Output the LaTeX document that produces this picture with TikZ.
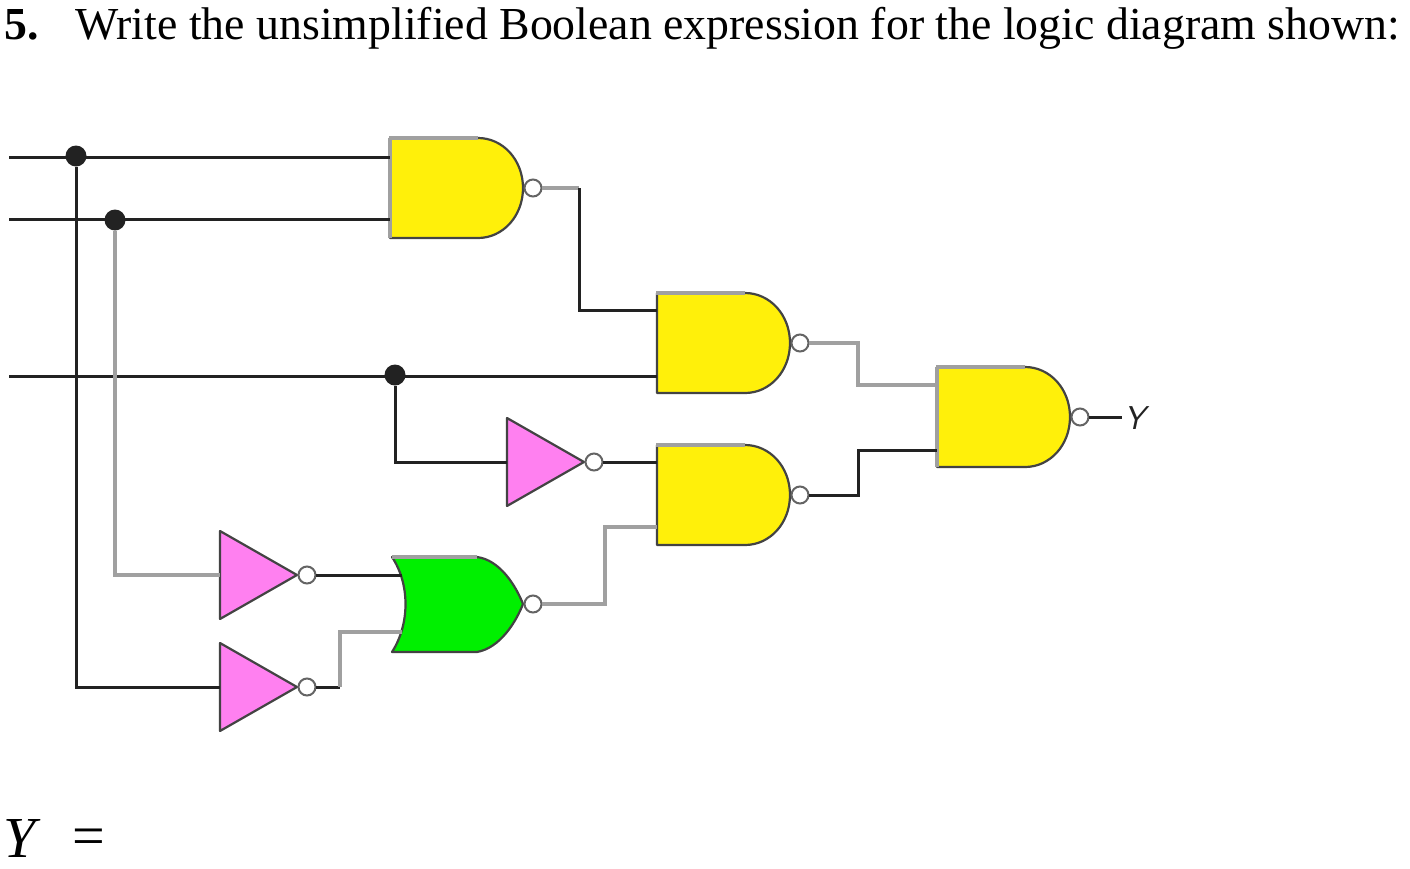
\documentclass[tikz,border=0pt]{standalone}
\usepackage{fontspec}
\setmainfont{Liberation Serif}
\definecolor{wiredark}{HTML}{222222}
\definecolor{wiregray}{HTML}{A0A0A0}
\definecolor{nandyellow}{HTML}{FFF00A}
\definecolor{norgreen}{HTML}{00F000}
\definecolor{notpink}{HTML}{FF80F0}
\tikzset{
    wire/.style={draw=wiredark,line width=3pt},
    graywire/.style={draw=wiregray,line width=3.4pt},
    dot/.style={circle,fill=wiredark,inner sep=0pt,minimum size=21pt},
    outline/.style={draw=wiredark!85!white,line width=2.2pt,line join=round},
    bubble/.style={circle,draw=wiredark!70!white,fill=white,line width=2pt,inner sep=0pt,minimum size=17pt},
    heading/.style={inner sep=0pt,anchor=base west,font=\fontsize{45.8}{46}\selectfont},
    nandgate/.pic={
        \path[outline,fill=nandyellow] (0,-50) -- (88,-50) .. controls (113,-50) and (133,-28) .. (133,0)
            .. controls (133,28) and (113,50) .. (88,50) -- (0,50) -- cycle;
        \draw[graywire] (-1,-50) -- (88,-50);
        \node[bubble] (-bub) at (143,0) {};
        \coordinate (-nw) at (0,-50);
        \coordinate (-sw) at (0,50);
        \coordinate (-w) at (0,0);
        \coordinate (-out) at (152,0);
    },
    norgate/.pic={
        \path[outline,fill=norgreen] (0,-47) -- (85,-47) .. controls (108,-44) and (124,-18) .. (131,0)
            .. controls (124,18) and (108,44) .. (85,48) -- (0,48)
            .. controls (18,20) and (18,-20) .. (0,-47) -- cycle;
        \draw[graywire] (0,-47) -- (85,-47);
        \node[bubble] (-bub) at (141,0) {};
        \coordinate (-in1) at (10,-30);
        \coordinate (-in2) at (10,28);
        \coordinate (-out) at (150,0);
    },
    notgate/.pic={
        \path[outline,fill=notpink] (0,-44) -- (77,0) -- (0,44) -- cycle;
        \node[bubble] (-bub) at (87,0) {};
        \coordinate (-in) at (0,0);
        \coordinate (-out) at (96,0);
    }
}
\begin{document}
\begin{tikzpicture}[x=1pt,y=-1pt]
    \useasboundingbox (0,0) rectangle (1410,868);
    % gates
    \pic (nandA) at (390,188) {nandgate};
    \pic (nandB) at (657,343) {nandgate};
    \pic (nandC) at (657,495) {nandgate};
    \pic (nandY) at (937,417) {nandgate};
    \pic (norD) at (392,604) {norgate};
    \pic (notC) at (507,462) {notgate};
    \pic (notB) at (220,575) {notgate};
    \pic (notA) at (220,687) {notgate};
    \draw[graywire] (nandA-nw) -- (nandA-sw);
    \draw[graywire] (nandY-nw) -- (nandY-sw);
    % free ends and bends
    \coordinate (inA) at (9,157);
    \coordinate (inB) at (9,219);
    \coordinate (inC) at (9,376);
    \coordinate (bendA) at (340,687);
    \coordinate (bendB) at (579,188);
    \coordinate (bendC) at (858,343);
    \coordinate (bendD) at (858,495);
    \coordinate (bendE) at (605,604);
    \coordinate (levelB) at (657,310);
    \coordinate (levelC) at (657,527);
    \coordinate (levelY1) at (937,385);
    \coordinate (levelY2) at (937,450);
    \coordinate (endY) at (1122,417);
    \node[dot] (dotA) at (76,156) {};
    \node[dot] (dotB) at (115,220) {};
    \node[dot] (dotC) at (395,375) {};
    % wires
    \draw[wire] (inA) -- (inA -| nandA-w);
    \draw[wire] (inB) -- (inB -| nandA-w);
    \draw[wire] (inC) -- (inC -| nandB-w);
    \draw[wire] (dotA) |- (notA-in);
    \draw[graywire] (dotB) |- (notB-in);
    \draw[wire] (dotC) |- (notC-in);
    \draw[wire] (notC-out) -- (notC-out -| nandC-w);
    \draw[wire] (notB-out) -- (notB-out -| norD-in1);
    \draw[wire] (notA-out) -- (bendA);
    \draw[graywire] (bendA) |- (norD-in2);
    \draw[graywire] (nandA-out) -- (bendB);
    \draw[wire] (bendB) |- (levelB);
    \draw[graywire] (nandB-out) -- (bendC) |- (levelY1);
    \draw[wire] (nandC-out) -- (bendD) |- (levelY2);
    \draw[graywire] (norD-out) -- (bendE) |- (levelC);
    \draw[wire] (nandY-out) -- (endY);
    % texts
    \node[heading] (qnum) at (4,39) {\textbf{5.}};
    \node[heading] (qtext) at (75,39) {Write the unsimplified Boolean expression for the logic diagram shown:};
    \node[heading,font=\fontsize{58}{58}\selectfont] (lhs) at (3,857) {\textit{Y}};
    \node[heading,font=\fontsize{58}{58}\selectfont] (eqsign) at (72,855) {=};
    \node[inner sep=0pt,anchor=west,font=\fontsize{33}{33}\sffamily\itshape\selectfont,text=wiredark] (outlabel) at (1124,418) {Y};
\end{tikzpicture}
\end{document}
